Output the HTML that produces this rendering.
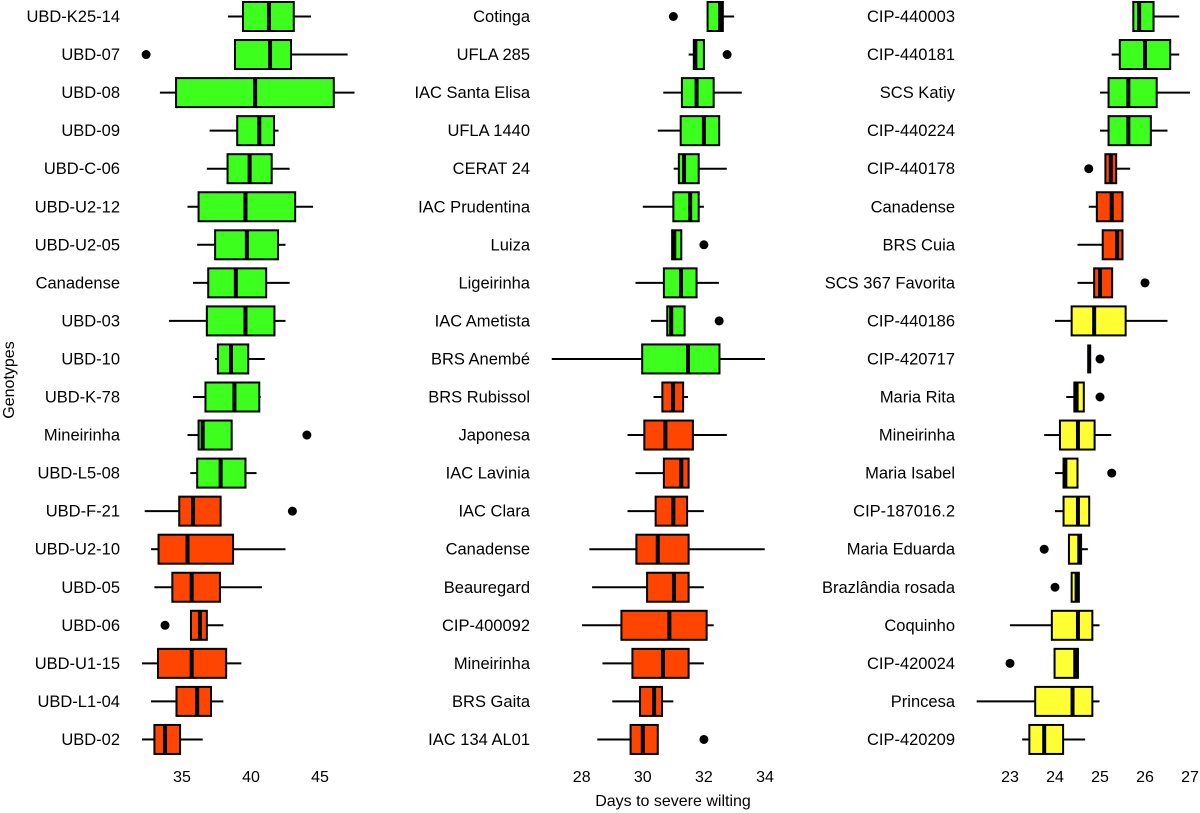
<!DOCTYPE html>
<html><head><meta charset="utf-8"><style>
body{margin:0;background:#fff;}
svg{display:block;font-family:"Liberation Sans",Arial,sans-serif;}
</style></head><body>
<svg id="chart" width="1200" height="813" viewBox="0 0 1200 813">
<text x="14" y="380" font-size="16" text-anchor="middle" transform="rotate(-90 14 380)">Genotypes</text>
<text x="673" y="806" font-size="16" text-anchor="middle">Days to severe wilting</text>
</svg>
<script>
// Panel 1
const names1 = ["UBD-K25-14","UBD-07","UBD-08","UBD-09","UBD-C-06","UBD-U2-12","UBD-U2-05","Canadense","UBD-03","UBD-10","UBD-K-78","Mineirinha","UBD-L5-08","UBD-F-21","UBD-U2-10","UBD-05","UBD-06","UBD-U1-15","UBD-L1-04","UBD-02"];
const lo1  = [38.33,38.84,33.4,37.0,36.8,35.4,36.1,35.8,34.06,37.4,35.8,35.4,35.6,32.3,32.75,33.0,35.65,32.1,32.75,32.1];
const q1_1 = [39.42,38.84,34.57,39.0,38.3,36.2,37.4,36.9,36.8,37.6,36.7,36.2,36.1,34.8,33.3,34.3,35.65,33.26,34.6,33.0];
const med1 = [41.3,41.38,40.3,40.6,39.9,39.6,39.7,38.9,39.6,38.55,38.8,36.5,37.8,35.8,35.4,35.7,36.3,35.7,36.1,33.77];
const q3_1 = [43.1,42.9,46.0,41.67,41.5,43.2,41.96,41.1,41.7,39.8,40.6,38.6,39.6,37.8,38.7,37.75,36.8,38.2,37.1,34.86];
const hi1  = [44.35,47.0,47.5,42.0,42.8,44.5,42.5,42.8,42.5,41.0,40.7,38.6,40.4,37.8,42.5,40.8,38.0,39.3,38.0,36.5];
const out1 = [[],[32.4],[],[],[],[],[],[],[],[],[],[44.05],[],[43.0],[],[],[33.77],[],[],[]];
const col1 = ["g","g","g","g","g","g","g","g","g","g","g","g","g","r","r","r","r","r","r","r"];
const ticks1 = [35,40,45];
// Panel 2
const names2 = ["Cotinga","UFLA 285","IAC Santa Elisa","UFLA 1440","CERAT 24","IAC Prudentina","Luiza","Ligeirinha","IAC Ametista","BRS Anembé","BRS Rubissol","Japonesa","IAC Lavinia","IAC Clara","Canadense","Beauregard","CIP-400092","Mineirinha","BRS Gaita","IAC 134 AL01"];
const lo2  = [32.12,31.5,30.67,30.49,31.01,30.0,30.96,29.76,30.27,27.02,30.35,29.5,29.76,29.5,28.25,28.34,28.01,28.68,29.0,28.51];
const q1_2 = [32.12,31.67,31.28,31.24,31.18,31.0,30.96,30.69,30.8,29.98,30.64,30.05,30.69,30.42,29.79,30.14,29.3,29.66,29.91,29.6];
const med2 = [32.53,31.72,31.76,32.0,31.35,31.55,31.03,31.25,30.93,31.48,30.99,30.74,31.26,31.0,30.49,31.02,30.87,30.66,30.37,30.0];
const q3_2 = [32.62,32.0,32.32,32.5,31.83,31.83,31.26,31.76,31.37,32.51,31.32,31.64,31.5,31.45,31.5,31.5,32.09,31.5,30.63,30.49];
const hi2  = [32.99,32.0,33.24,32.5,32.75,32.0,31.26,32.49,31.37,34.0,31.48,32.75,31.5,32.0,33.99,32.0,32.32,32.0,31.0,30.49];
const out2 = [[31.0],[32.76],[],[],[],[],[32.0],[],[32.5],[],[],[],[],[],[],[],[],[],[],[32.0]];
const col2 = ["g","g","g","g","g","g","g","g","g","g","r","r","r","r","r","r","r","r","r","r"];
const ticks2 = [28,30,32,34];
// Panel 3
const names3 = ["CIP-440003","CIP-440181","SCS Katiy","CIP-440224","CIP-440178","Canadense","BRS Cuia","SCS 367 Favorita","CIP-440186","CIP-420717","Maria Rita","Mineirinha","Maria Isabel","CIP-187016.2","Maria Eduarda","Brazlândia rosada","Coquinho","CIP-420024","Princesa","CIP-420209"];
const lo3  = [25.74,25.26,25.0,25.0,25.12,24.75,24.5,24.5,24.0,24.76,24.25,23.76,24.0,24.0,24.31,24.37,23.0,23.99,22.26,23.27];
const q1_3 = [25.74,25.44,25.19,25.19,25.12,24.93,25.06,24.87,24.37,24.76,24.43,24.11,24.19,24.19,24.31,24.37,23.93,23.99,23.56,23.43];
const med3 = [25.87,26.0,25.63,25.63,25.24,25.26,25.38,25.0,24.87,24.76,24.48,24.51,24.23,24.51,24.54,24.48,24.51,24.45,24.39,23.76];
const q3_3 = [26.19,26.56,26.26,26.13,25.36,25.5,25.5,25.27,25.57,24.76,24.64,24.88,24.5,24.76,24.58,24.53,24.83,24.51,24.83,24.18];
const hi3  = [26.76,26.76,27.0,26.5,25.67,25.5,25.5,25.27,26.5,24.76,24.64,25.25,24.5,24.76,24.73,24.53,24.99,24.51,24.99,24.67];
const out3 = [[],[],[],[],[24.75],[],[],[26.0],[],[25.0],[25.0],[],[25.26],[],[23.76],[24.0],[],[23.0],[],[]];
const col3 = ["g","g","g","g","r","r","r","r","y","y","y","y","y","y","y","y","y","y","y","y"];
const ticks3 = [23,24,25,26,27];

const fills = {g:"#3cff1e", r:"#ff4500", y:"#ffff33"};
const NS = "http://www.w3.org/2000/svg";
const svg = document.getElementById("chart");
function mk(tag, attrs, parent){ const e=document.createElementNS(NS,tag); for(const k in attrs) e.setAttribute(k,attrs[k]); (parent||svg).appendChild(e); return e; }
const rowY = i => 16.5 + 38.05*i;
const BH = 29;

function panel(p, names, lo, q1, med, q3, hi, out, col, ticks, v0, x0, ppu, labelRight){
  const sx = v => x0 + (v - v0)*ppu;
  const g = mk("g",{});
  
  
  names.forEach((n,i)=>{
    const y = rowY(i);
    const lab = mk("text",{x:labelRight,y:y+5.5,"font-size":"16.5","text-anchor":"end"},g);
    lab.textContent = n;
    
    
    const bg = mk("g",{},g);
    
    
    if (lo[i] < q1[i]) mk("line",{x1:sx(lo[i]),x2:sx(q1[i]),y1:y,y2:y,stroke:"#000","stroke-width":2},bg);
    if (hi[i] > q3[i]) mk("line",{x1:sx(q3[i]),x2:sx(hi[i]),y1:y,y2:y,stroke:"#000","stroke-width":2},bg);
    const w = Math.max(sx(q3[i])-sx(q1[i]),0);
    if (w>0.5) mk("rect",{x:sx(q1[i]),y:y-BH/2,width:w,height:BH,fill:fills[col[i]],stroke:"#000","stroke-width":2},bg);
    mk("line",{x1:sx(med[i]),x2:sx(med[i]),y1:y-BH/2,y2:y+BH/2,stroke:"#000","stroke-width":4},bg);
    out[i].forEach(o=>{
      const c = mk("circle",{cx:sx(o),cy:y,r:4.5,fill:"#000"},bg);
      
      
    });
  });
  ticks.forEach(t=>{
    const tx = mk("text",{x:sx(t),y:782,"font-size":"16","text-anchor":"middle"},g);
    tx.textContent = t;
    
    
  });
}
panel(1, names1, lo1, q1_1, med1, q3_1, hi1, out1, col1, ticks1, 35, 182, 13.8, 120);
panel(2, names2, lo2, q1_2, med2, q3_2, hi2, out2, col2, ticks2, 28, 581.7, 30.55, 530);
panel(3, names3, lo3, q1_3, med3, q3_3, hi3, out3, col3, ticks3, 23, 1010, 45, 955);
</script>
</body></html>
